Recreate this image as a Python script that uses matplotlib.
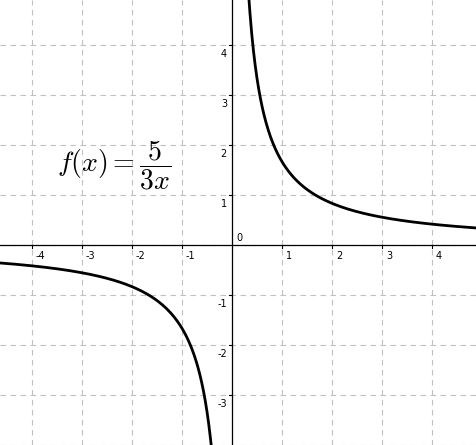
import numpy as np
import matplotlib
matplotlib.use("Agg")
import matplotlib.pyplot as plt

plt.rcParams["mathtext.fontset"] = "cm"

x_ticks = [-4, -3, -2, -1, 1, 2, 3, 4]
y_ticks = [-3, -2, -1, 1, 2, 3, 4]
numerator, denominator = 5, 3
xlim = (-4.64, 4.9)
ylim = (-4.0, 4.9)

fig = plt.figure(figsize=(4.77, 4.45), dpi=100)
ax = fig.add_axes([0, 0, 1, 1])
ax.set_xlim(*xlim)
ax.set_ylim(*ylim)
for s in ax.spines.values():
    s.set_visible(False)
ax.set_xticks([]); ax.set_yticks([])

for gx in range(-5, 6):
    ax.axvline(gx, color="#c0c0c0", ls=(0, (5, 4)), lw=0.8, zorder=0)
for gy in range(-5, 6):
    ax.axhline(gy, color="#c0c0c0", ls=(0, (5, 4)), lw=0.8, zorder=0)
ax.axhline(0, color="black", lw=0.9, zorder=1)
ax.axvline(0, color="black", lw=0.9, zorder=1)

for t in x_ticks:
    ax.plot([t, t], [0, -0.06], color="black", lw=0.8)
    ax.text(t + 0.08, -0.12, str(t), fontsize=7, ha="left", va="top")
for t in y_ticks:
    ax.plot([0, -0.06], [t, t], color="black", lw=0.8)
    ax.text(-0.1, t - 0.08, str(t), fontsize=7, ha="right", va="top")
ax.text(0.08, 0.04, "0", fontsize=7, ha="left", va="bottom")

xr = np.linspace(0.3, 5, 400)
xl = np.linspace(-5, -0.3, 400)
ax.plot(xr, numerator / (denominator * xr), color="black", lw=2)
ax.plot(xl, numerator / (denominator * xl), color="black", lw=2)

ax.text(-3.5, 1.6, r"$f(x) = \dfrac{5}{3x}$", fontsize=20, ha="left", va="center")

fig.savefig("out.png", dpi=100)
